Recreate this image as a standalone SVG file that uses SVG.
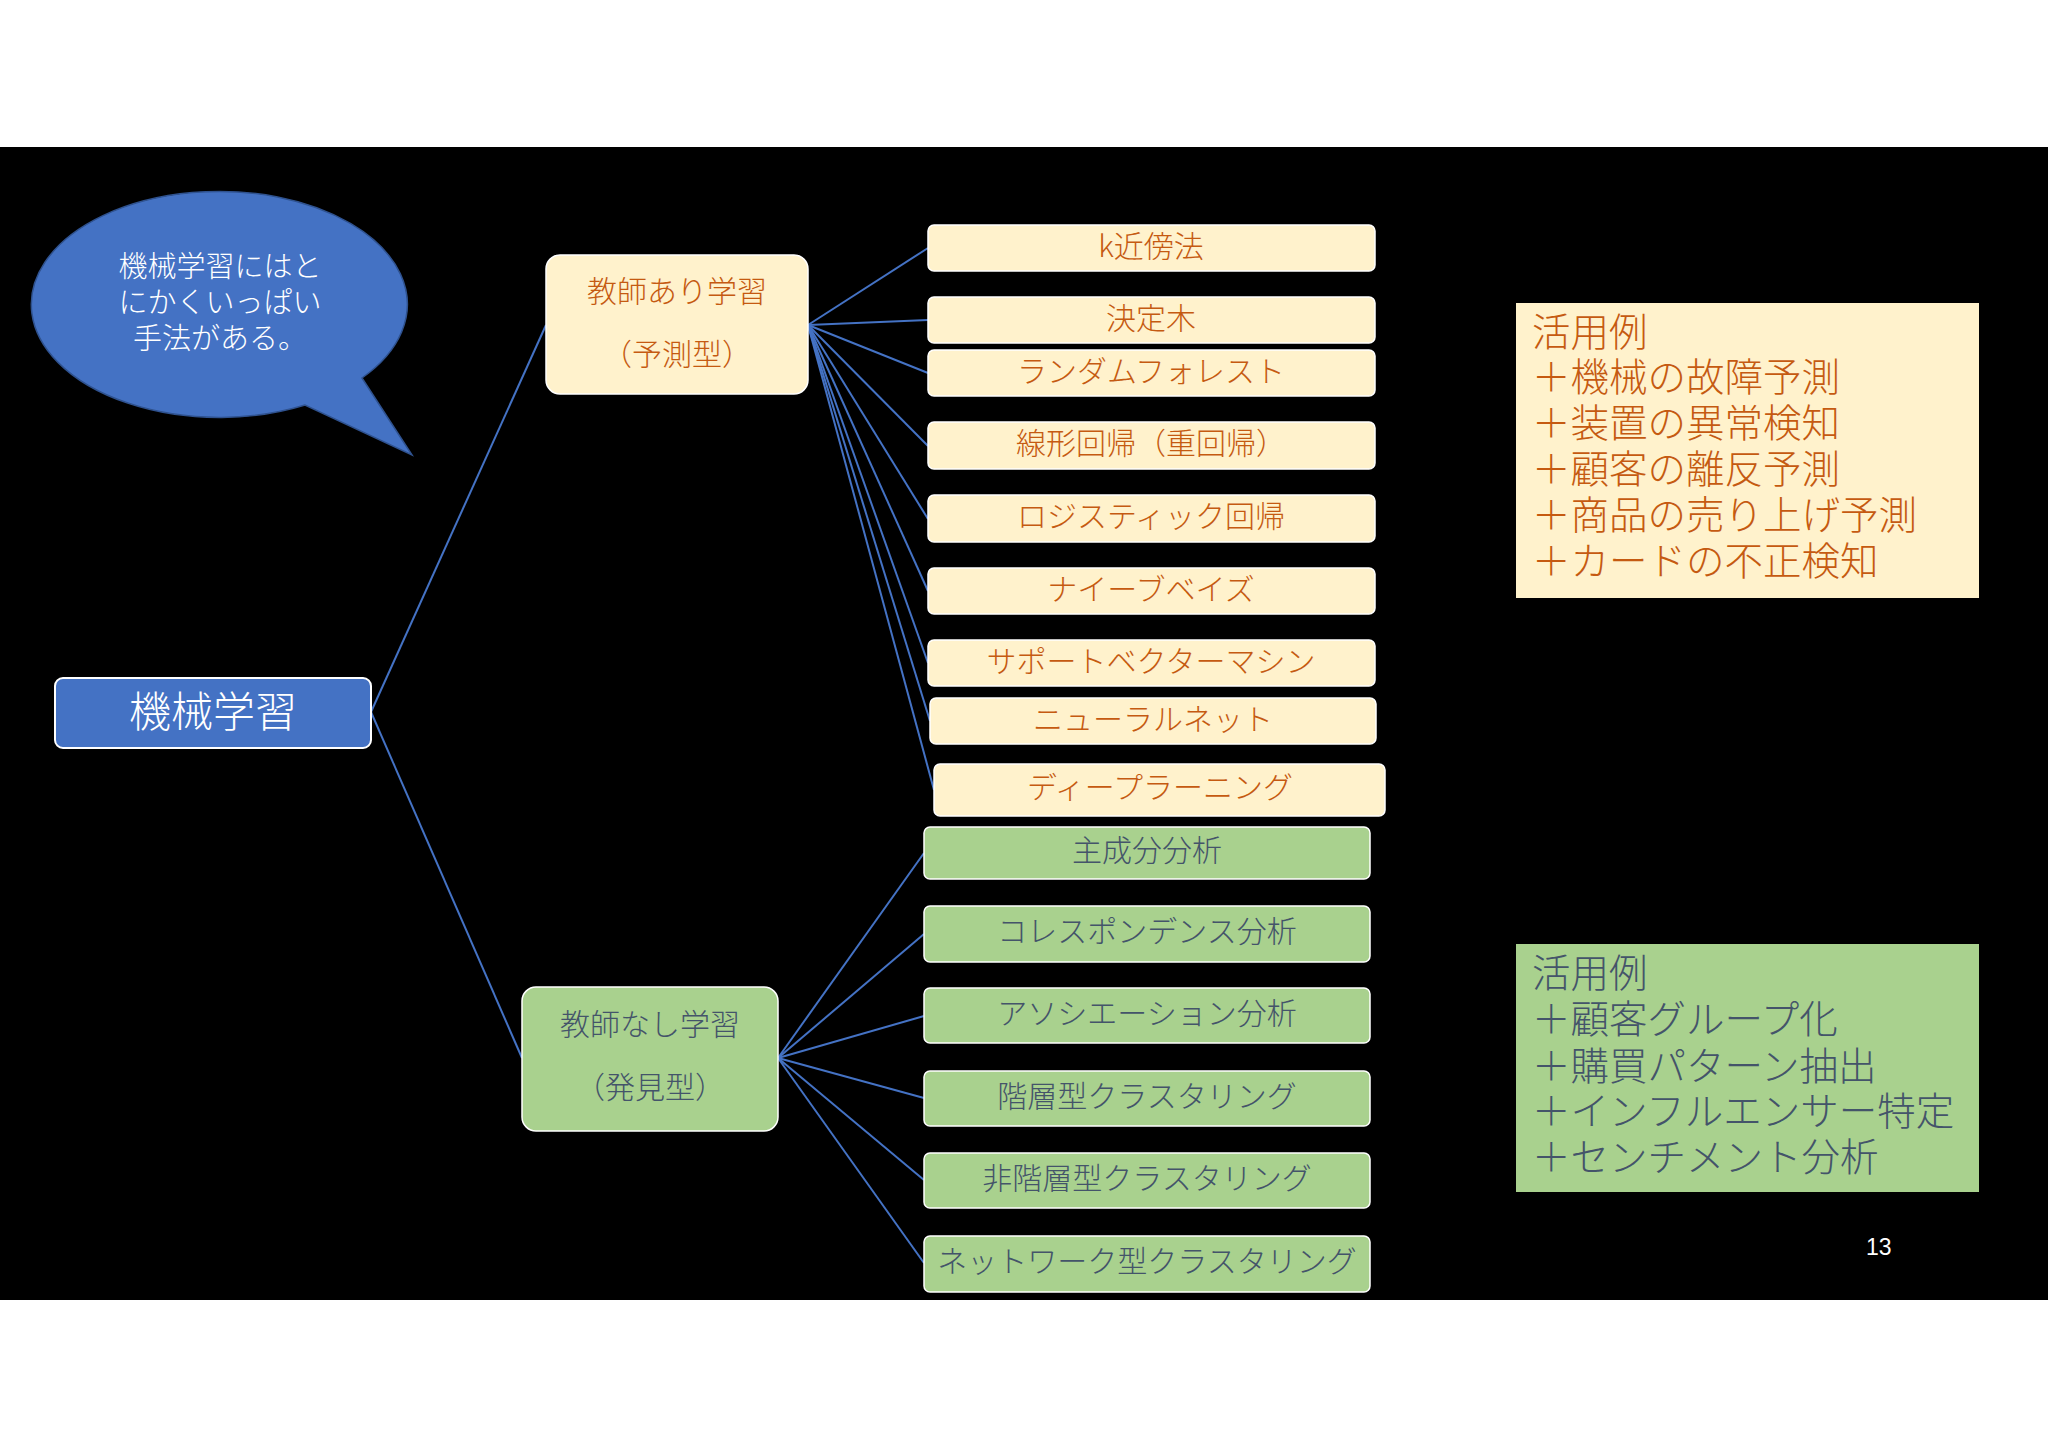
<svg xmlns="http://www.w3.org/2000/svg" width="2048" height="1448" viewBox="0 0 2048 1448">
<style>
text{font-family:"Noto Sans CJK JP","Noto Sans",sans-serif;font-weight:300;dominant-baseline:central;text-anchor:middle}
.y rect{fill:#FFF2CC;stroke:#FFFFFF;stroke-width:1.5}
.y text{fill:#C55A11;font-size:30px}
.g rect{fill:#A9D18E;stroke:#FFFFFF;stroke-width:1.5}
.g text{fill:#44546A;font-size:30px}
.info text{font-size:38.5px;text-anchor:start;dominant-baseline:alphabetic}
#connectors line{stroke:#4472C4;stroke-width:2}
</style>
<rect x="0" y="0" width="2048" height="1448" fill="#FFFFFF"/>
<rect x="0" y="147" width="2048" height="1153" fill="#000000"/>

<g id="connectors">
  <line x1="371" y1="712" x2="546" y2="325"/>
  <line x1="371" y1="712" x2="522" y2="1058"/>
  <line x1="808" y1="325" x2="928" y2="248"/>
  <line x1="808" y1="325" x2="928" y2="320"/>
  <line x1="808" y1="325" x2="928" y2="373"/>
  <line x1="808" y1="325" x2="928" y2="446"/>
  <line x1="808" y1="325" x2="928" y2="519"/>
  <line x1="808" y1="325" x2="928" y2="591"/>
  <line x1="808" y1="325" x2="928" y2="663"/>
  <line x1="808" y1="325" x2="930" y2="721"/>
  <line x1="808" y1="325" x2="934" y2="790"/>
  <line x1="778" y1="1058" x2="924" y2="853"/>
  <line x1="778" y1="1058" x2="924" y2="934"/>
  <line x1="778" y1="1058" x2="924" y2="1016"/>
  <line x1="778" y1="1058" x2="924" y2="1098"/>
  <line x1="778" y1="1058" x2="924" y2="1180"/>
  <line x1="778" y1="1058" x2="924" y2="1263"/>
</g>

<g id="bubble">
  <path d="M362,378 L412,455 L305,405 A188,113 0 1 1 362,378 Z" fill="#4472C4" stroke="#2F528F" stroke-width="1.5"/>
  <text x="220" y="264" fill="#FFFFFF" font-size="29">機械学習にはと</text>
  <text x="220" y="300" fill="#FFFFFF" font-size="29">にかくいっぱい</text>
  <text x="220" y="336" fill="#FFFFFF" font-size="29">手法がある。</text>
</g>

<g id="root">
  <rect x="55" y="678" width="316" height="70" rx="8" fill="#4472C4" stroke="#FFFFFF" stroke-width="2"/>
  <text x="213" y="708" fill="#FFFFFF" font-size="42">機械学習</text>
</g>

<g id="supervised" class="y">
  <rect x="546" y="255" width="262" height="139" rx="14"/>
  <text x="677" y="289">教師あり学習</text>
  <text x="677" y="352">（予測型）</text>
</g>
<g id="unsupervised" class="g">
  <rect x="522" y="987" width="256" height="144" rx="14"/>
  <text x="650" y="1022">教師なし学習</text>
  <text x="650" y="1085">（発見型）</text>
</g>

<g id="knn" class="y"><rect x="928" y="225" width="447" height="46" rx="6"/><text x="1151" y="244">k近傍法</text></g>
<g id="tree" class="y"><rect x="928" y="297" width="447" height="46" rx="6"/><text x="1151" y="316">決定木</text></g>
<g id="rf" class="y"><rect x="928" y="350" width="447" height="46" rx="6"/><text x="1151" y="369">ランダムフォレスト</text></g>
<g id="linreg" class="y"><rect x="928" y="422" width="447" height="47" rx="6"/><text x="1151" y="441">線形回帰（重回帰）</text></g>
<g id="logreg" class="y"><rect x="928" y="495" width="447" height="47" rx="6"/><text x="1151" y="514">ロジスティック回帰</text></g>
<g id="nb" class="y"><rect x="928" y="568" width="447" height="46" rx="6"/><text x="1151" y="587">ナイーブベイズ</text></g>
<g id="svm" class="y"><rect x="928" y="640" width="447" height="46" rx="6"/><text x="1151" y="659">サポートベクターマシン</text></g>
<g id="nn" class="y"><rect x="930" y="698" width="446" height="46" rx="6"/><text x="1153" y="717">ニューラルネット</text></g>
<g id="dl" class="y"><rect x="934" y="764" width="451" height="52" rx="6"/><text x="1160" y="785">ディープラーニング</text></g>

<g id="pca" class="g"><rect x="924" y="827" width="446" height="52" rx="6"/><text x="1147" y="848">主成分分析</text></g>
<g id="ca" class="g"><rect x="924" y="906" width="446" height="56" rx="6"/><text x="1147" y="929">コレスポンデンス分析</text></g>
<g id="assoc" class="g"><rect x="924" y="988" width="446" height="55" rx="6"/><text x="1147" y="1011">アソシエーション分析</text></g>
<g id="hclust" class="g"><rect x="924" y="1071" width="446" height="55" rx="6"/><text x="1147" y="1094">階層型クラスタリング</text></g>
<g id="nhclust" class="g"><rect x="924" y="1153" width="446" height="55" rx="6"/><text x="1147" y="1176">非階層型クラスタリング</text></g>
<g id="netclust" class="g"><rect x="924" y="1236" width="446" height="56" rx="6"/><text x="1147" y="1259">ネットワーク型クラスタリング</text></g>

<g id="uses-supervised" class="info">
  <rect x="1516" y="303" width="463" height="295" fill="#FFF2CC"/>
  <text fill="#C55A11"><tspan x="1532" y="346">活用例</tspan><tspan x="1532" y="391">＋機械の故障予測</tspan><tspan x="1532" y="437">＋装置の異常検知</tspan><tspan x="1532" y="483">＋顧客の離反予測</tspan><tspan x="1532" y="529">＋商品の売り上げ予測</tspan><tspan x="1532" y="575">＋カードの不正検知</tspan></text>
</g>
<g id="uses-unsupervised" class="info">
  <rect x="1516" y="944" width="463" height="248" fill="#A9D18E"/>
  <text fill="#44546A"><tspan x="1532" y="987">活用例</tspan><tspan x="1532" y="1033">＋顧客グループ化</tspan><tspan x="1532" y="1080">＋購買パターン抽出</tspan><tspan x="1532" y="1125">＋インフルエンサー特定</tspan><tspan x="1532" y="1171">＋センチメント分析</tspan></text>
</g>

<text x="1866" y="1255" fill="#FFFFFF" font-size="23" style="font-family:'Liberation Sans',sans-serif;font-weight:400;text-anchor:start;dominant-baseline:alphabetic">13</text>
</svg>
